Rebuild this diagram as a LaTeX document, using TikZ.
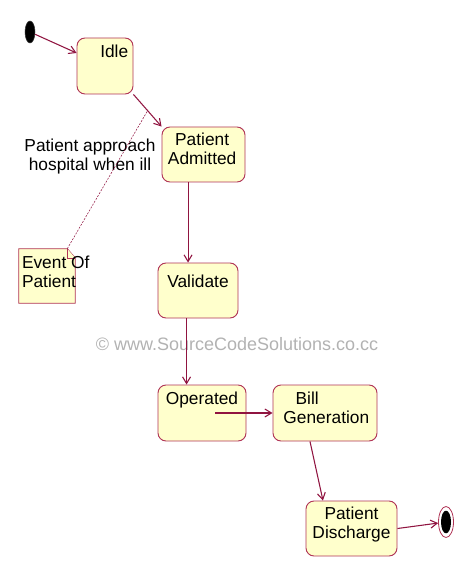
\documentclass[tikz,border=0pt]{standalone}
\usepackage{fontspec}
\setmainfont{Liberation Sans}
\usetikzlibrary{arrows.meta,shapes.geometric,backgrounds}

\definecolor{statefill}{RGB}{255,255,204}
\definecolor{stateline}{RGB}{176,52,86}
\definecolor{transline}{RGB}{144,20,64}

\tikzset{
    statebox/.style={draw=stateline, fill=statefill, rounded corners=6pt, line width=0.7pt},
    statetext/.style={inner sep=0pt, align=center, font=\fontsize{13}{14.25}\selectfont},
    notebox/.style={draw=stateline, fill=statefill, line width=0.7pt},
    trans/.style={draw=transline, line width=0.8pt, -{Straight Barb[length=5pt,width=6pt]}},
    notelink/.style={draw=transline, line width=0.4pt, dash pattern=on 1.5pt off 1pt},
    blob/.style={ellipse, fill=black, inner sep=0pt}
}

\begin{document}
\begin{tikzpicture}[x=0.75pt,y=-0.75pt]
            \useasboundingbox (0,0) rectangle (474,573);
            \node[blob, draw=black!80, minimum width=7.5pt, minimum height=16.5pt] (init) at (30,32) {};
            \node[statebox, minimum width=42pt, minimum height=42pt,
                label={[statetext, anchor=north east, xshift=-3.75pt, yshift=-5.25pt]north east:Idle}] (idle) at (105,66) {};
            \node[statebox, minimum width=62.25pt, minimum height=41.25pt,
                label={[statetext, anchor=north, xshift=-1pt, yshift=-4.5pt]north:Patient\\Admitted}] (adm) at (203.5,154.5) {};
            \node[statebox, minimum width=60pt, minimum height=41.25pt,
                label={[statetext, anchor=north, yshift=-9pt]north:Validate}] (val) at (198,290.5) {};
            \node[statebox, minimum width=66pt, minimum height=42pt,
                label={[statetext, anchor=north, yshift=-5.25pt]north:Operated}] (op) at (202,413) {};
            \node[statebox, minimum width=78pt, minimum height=42pt,
                label={[statetext, align=left, anchor=north, xshift=1pt, yshift=-5.25pt]north:\hspace*{0.7em}Bill\\Generation}] (bill) at (325,413) {};
            \node[statebox, minimum width=68.25pt, minimum height=41.25pt,
                label={[statetext, anchor=north, yshift=-4.5pt]north:Patient\\Discharge}] (dis) at (351.5,528.5) {};
            \node[ellipse, draw=stateline, fill=white, line width=0.6pt, minimum width=11.25pt, minimum height=23.25pt] (final) at (446,522) {};
            \node[blob, minimum width=7.5pt, minimum height=17pt] (finalcore) at (final) {};

            % note
            \node[minimum width=42pt, minimum height=40.5pt, inner sep=0pt,
                label={[statetext, align=left, anchor=north west, xshift=2.25pt, yshift=-5.25pt]north west:Event Of\\Patient}] (note) at (47,276) {};
            \begin{scope}[on background layer]
                \filldraw[notebox] (note.south west) -- (note.north west) -- ([xshift=-6pt]note.north east)
                    -- ([yshift=-7pt]note.north east) -- (note.south east) -- cycle;
                \draw[notebox] ([xshift=-6pt]note.north east) |- ([yshift=-7pt]note.north east);
            \end{scope}
            \node[statetext] (cond) at (90,157) {Patient approach\\hospital when ill};
            \coordinate (linkend) at (148,110);
            \draw[notelink] ([xshift=-6pt]note.north east) -- (linkend);

            \node[text=gray!60, font=\fontsize{13.5}{16}\selectfont] (mark) at (237,344) {© www.SourceCodeSolutions.co.cc};

            \draw[trans] (init) -- ([yshift=9.75pt]idle.west);
            \draw[trans] (idle.south east) -- (adm.north west);
            \draw[trans] ([xshift=-11.6pt]adm.south) -- ([xshift=-11.6pt]adm.south |- val.north);
            \draw[trans] ([xshift=-8.6pt]val.south) -- ([xshift=-8.6pt]val.south |- op.north);
            \draw[trans] ([xshift=-23.25pt]op.east) -- (bill.west);
            \draw[trans] ([xshift=-11.25pt]bill.south) -- ([xshift=-21.4pt]dis.north);
            \draw[trans] (dis.east) -- (final);
        \end{tikzpicture}
\end{document}
